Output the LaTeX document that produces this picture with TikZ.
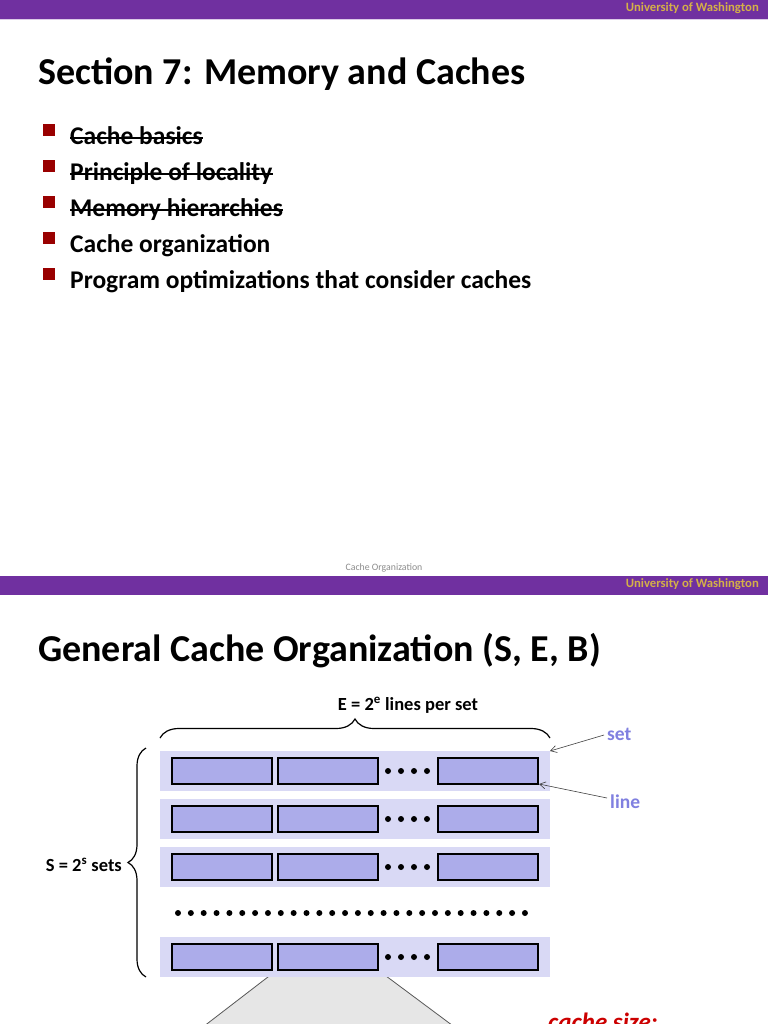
\documentclass[tikz,border=0pt]{standalone}
\usepackage{fontspec}
\setmainfont{Carlito}
\usetikzlibrary{decorations.pathreplacing,arrows.meta}
\definecolor{uwpurple}{RGB}{112,48,160}
\definecolor{uwgold}{RGB}{212,176,72}
\definecolor{bulletred}{RGB}{153,0,0}
\definecolor{rowfill}{RGB}{217,217,245}
\definecolor{boxfill}{RGB}{172,172,234}
\definecolor{lblblue}{RGB}{128,128,224}
\definecolor{zoomfill}{RGB}{230,230,230}
\definecolor{cachered}{RGB}{204,0,0}
\tikzset{
  bar/.style={fill=uwpurple,draw=none},
  uwtext/.style={text=uwgold,font=\fontsize{12.7}{13}\selectfont\bfseries,anchor=east,inner sep=0},
  title/.style={font=\fontsize{38}{40}\selectfont\bfseries,anchor=base west,inner sep=0},
  bsq/.style={fill=bulletred,minimum size=12pt,inner sep=0,draw=none},
  btext/.style={font=\fontsize{25.5}{27}\selectfont\bfseries,anchor=base west,inner sep=0},
  strike/.style={line width=1.2pt},
  setrow/.style={fill=rowfill,draw=none},
  linebox/.style={fill=boxfill,draw=black,line width=2.3pt},
  lbl/.style={font=\fontsize{18.5}{19}\selectfont\bfseries,inner sep=0},
  bluelbl/.style={text=lblblue,font=\fontsize{19.5}{20}\selectfont\bfseries,inner sep=0,anchor=west},
  ptr/.style={draw=black!75,line width=0.6pt,-{Straight Barb[length=6pt,width=7pt]}},
  bracestyle/.style={decorate,line width=1.2pt},
}
\begin{document}
\begin{tikzpicture}[x=1pt,y=-1pt]
\useasboundingbox (0,0) rectangle (768,1024);
\clip (0,0) rectangle (768,1024);
\fill[white] (0,0) rectangle (768,1024);

% ---------- Slide 1 ----------
\fill[bar] (0,0) rectangle (768,19);
\fill[uwpurple!25] (0,19) rectangle (768,20.5);
\node[uwtext] (uw1) at (759,8) {University of Washington};
\node[title] (t1) at (38,85) {Section 7: Memory and Caches};

\foreach \i/\txt in {1/Cache basics,2/Principle of locality,3/Memory hierarchies,4/Cache organization,5/Program optimizations that consider caches}{
  \node[bsq] (b\i) at (49,{94+36*\i}) {};
  \node[btext] (l\i) at (70,{108.5+36*\i}) {\txt};
}
\foreach \i in {1,2,3}{
  \draw[strike] ([yshift=6.5pt]l\i.base west) -- ([yshift=6.5pt]l\i.base east);
}
\node[text=black!45,font=\fontsize{9.8}{10}\selectfont,inner sep=0] (foot) at (384,568) {Cache Organization};

% ---------- Slide 2 ----------
\fill[bar] (0,576) rectangle (768,595);
\node[uwtext] (uw2) at (759,584) {University of Washington};
\node[title] (t2) at (38,661) {General Cache Organization (S, E, B)};

% zoom trapezoid
\fill[zoomfill] (277,970) -- (378,970) -- (472,1040) -- (186,1040) -- cycle;
\draw[black!65,line width=0.8pt] (277,970) -- (186,1040);
\draw[black!65,line width=0.8pt] (378,970) -- (472,1040);

% set rows
\foreach \r/\y in {1/751,2/799,3/847,4/937}{
  \fill[setrow] (160,\y) rectangle (550,{\y+40});
  \coordinate (row\r) at (550,\y);
  \draw[linebox] (172,{\y+7}) rectangle (272,{\y+33});
  \draw[linebox] (278,{\y+7}) rectangle (378,{\y+33});
  \draw[linebox] (438,{\y+7}) rectangle (538,{\y+33});
  \coordinate (lb\r) at (539,{\y+33});
  \foreach \k in {0,1,2,3}{
    \fill[black] ({388+13*\k},{\y+20}) circle (3pt);
  }
}
\foreach \k in {0,...,27}{
  \fill[black] ({178+12.85*\k},913) circle (3pt);
}

% braces
\draw[bracestyle,decoration={brace,amplitude=19pt}] (160,738) -- (550,738);
\node[lbl] (E) at (408,705) {E = 2\textsuperscript{e} lines per set};
\draw[bracestyle,decoration={brace,amplitude=18pt}] (146,977) -- (146,748);
\node[lbl,anchor=east] (S) at (122,865) {S = 2\textsuperscript{s} sets};

% labels
\node[bluelbl] (setl) at (607,734) {set};
\node[bluelbl] (linel) at (610,802) {line};
\draw[ptr] (setl.west) ++(-3,1) -- (row1);
\draw[ptr] (linel.west) ++(-3,-4) -- (lb1);

% cache size
\node[text=cachered,font=\fontsize{25}{26}\selectfont\bfseries\itshape,anchor=base west,inner sep=0] (cs) at (548,1030) {cache size:};
\end{tikzpicture}
\end{document}
